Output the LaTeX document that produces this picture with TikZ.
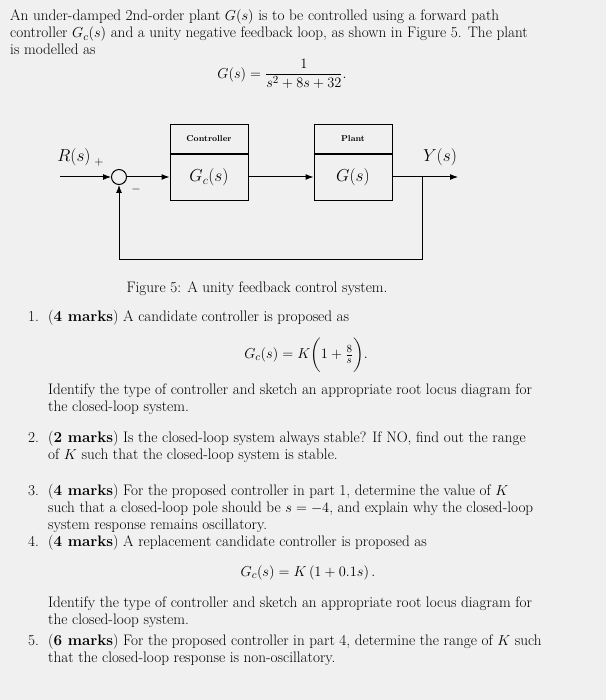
\documentclass[tikz,border=0pt]{standalone}
\usepackage{amsmath}
\usetikzlibrary{arrows.meta}
\begin{document}
\begin{tikzpicture}[x=1pt,y=-1pt,
  txt/.style={anchor=base west,inner sep=0pt,font=\fontsize{15.2}{17}\selectfont},
  blk/.style={draw,line width=1pt,minimum width=78pt,minimum height=46pt,inner sep=0pt},
  hd/.style={draw,line width=1pt,minimum width=78pt,minimum height=29pt,inner sep=0pt,font=\fontsize{8.5}{10}\selectfont\bfseries},
  sig/.style={line width=1pt,-{Latex[length=8pt,width=6pt]}},
  ln/.style={line width=1pt}]
\fill[gray!12] (0,0) rectangle (606,700);
\useasboundingbox (0,0) rectangle (606,700);
% intro
\node[txt] (l1) at (10,21) {An under-damped 2nd-order plant $G(s)$ is to be controlled using a forward path};
\node[txt] (l2) at (10,38) {controller $G_c(s)$ and a unity negative feedback loop, as shown in Figure 5. The plant};
\node[txt] (l3) at (10,55) {is modelled as};
\node[font=\fontsize{15.2}{17}\selectfont] (eq1) at (282,74) {$G(s)=\dfrac{1}{s^2+8s+32}.$};
% block diagram
\node[hd] (ch) at (209,139) {Controller};
\node[blk,anchor=north] (cb) at (ch.south) {\fontsize{18}{21}\selectfont$G_c(s)$};
\node[hd] (ph) at (353,139) {Plant};
\node[blk,anchor=north] (pb) at (ph.south) {\fontsize{18}{21}\selectfont$G(s)$};
\node[draw,circle,line width=1pt,minimum size=15pt,inner sep=0pt] (sum) at (119,177) {};
\coordinate (in) at (60,177);
\coordinate (out) at (458,177);
\coordinate (br) at (422,177);
\coordinate (fb) at (422,259);
\coordinate (fb2) at (119,259);
\draw[sig] (in) -- (sum);
\draw[sig] (sum) -- (cb.west|-sum);
\draw[sig] (cb.east|-sum) -- (pb.west|-sum);
\draw[sig] (pb.east|-sum) -- (out);
\draw[ln] (br) -- (fb) -- (fb2);
\draw[sig] (fb2) -- (sum);
\node[font=\fontsize{18}{21}\selectfont] (R) at (74,157) {$R(s)$};
\node[font=\fontsize{12}{14}\selectfont] (plus) at (99,163) {$+$};
\node[font=\fontsize{12}{14}\selectfont] (minus) at (136,190) {$-$};
\node[font=\fontsize{18}{21}\selectfont] (Y) at (440,157) {$Y(s)$};
\node[font=\fontsize{15.2}{17}\selectfont] (cap) at (257,289) {Figure 5: A unity feedback control system.};
% items
\node[txt] (n1) at (28,321) {1.};
\node[txt] (i1) at (48,321) {(\textbf{4 marks}) A candidate controller is proposed as};
\node[font=\fontsize{15.2}{17}\selectfont] (eq2) at (306,355) {$G_c(s)=K\biggl(1+\tfrac{8}{s}\biggr).$};
\node[txt] (i1b) at (48,394) {Identify the type of controller and sketch an appropriate root locus diagram for};
\node[txt] (i1c) at (48,411) {the closed-loop system.};
\node[txt] (n2) at (28,442) {2.};
\node[txt] (i2) at (48,442) {(\textbf{2 marks}) Is the closed-loop system always stable? If NO, find out the range};
\node[txt] (i2b) at (48,459) {of $K$ such that the closed-loop system is stable.};
\node[txt] (n3) at (28,495) {3.};
\node[txt] (i3) at (48,495) {(\textbf{4 marks}) For the proposed controller in part 1, determine the value of $K$};
\node[txt] (i3b) at (48,512) {such that a closed-loop pole should be $s=-4$, and explain why the closed-loop};
\node[txt] (i3c) at (48,529) {system response remains oscillatory.};
\node[txt] (n4) at (28,546) {4.};
\node[txt] (i4) at (48,546) {(\textbf{4 marks}) A replacement candidate controller is proposed as};
\node[font=\fontsize{15.2}{17}\selectfont] (eq3) at (308,573) {$G_c(s)=K\,(1+0.1s)\,.$};
\node[txt] (i4b) at (48,607) {Identify the type of controller and sketch an appropriate root locus diagram for};
\node[txt] (i4c) at (48,624) {the closed-loop system.};
\node[txt] (n5) at (28,645) {5.};
\node[txt] (i5) at (48,645) {(\textbf{6 marks}) For the proposed controller in part 4, determine the range of $K$ such};
\node[txt] (i5b) at (48,662) {that the closed-loop response is non-oscillatory.};
\end{tikzpicture}
\end{document}
